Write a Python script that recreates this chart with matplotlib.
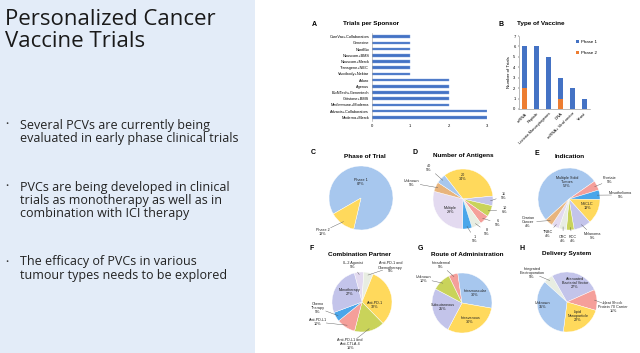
import numpy as np
import matplotlib
matplotlib.use("Agg")
import matplotlib.pyplot as plt
from matplotlib.patches import Rectangle

# ---------------- data ----------------
sponsors = ["CureVac+Collaborators", "Genexine", "NantBio", "Nouscom+BMS", "Nouscom+Merck",
            "Transgene+NEC", "Vaccibody+Nektar", "Aduro", "Agenus", "BioNTech+Genentech",
            "Gritstone+BMS", "Medimmune+Moderna", "Advaxis+Collaborators", "Moderna+Merck"]
sponsor_trials = [1, 1, 1, 1, 1, 1, 1, 2, 2, 2, 2, 2, 3, 3]

vaccine_types = ["mRNA", "Peptide", "Listeria Monocytogenes", "DNA", "mRNA+ Viral vector", "Yeast"]
phase1_counts = [4, 6, 5, 2, 2, 1]
phase2_counts = [2, 0, 0, 1, 0, 0]

phase_labels = ["Phase 1", "Phase 2"]
phase_pct = [87, 13]

antigen_labels = ["20", "11", "10", "6", "8", "1", "Multiple", "Unknown", "40"]
antigen_pct = [33, 5, 6, 5, 5, 5, 28, 5, 5]

indication_labels = ["Multiple Solid\nTumors", "Prostate", "Mesothelioma", "NSCLC", "Melanoma",
                     "RCC", "CRC", "TNBC", "Ovarian\nCancer"]
indication_pct = [52, 5, 5, 13, 9, 4, 4, 4, 4]

combo_labels = ["IL-2 Agonist", "Anti-PD-1 and\nChemotherapy", "Anti-PD-1",
                "Anti-PD-L1 and\nAnti-CTLA-4", "Anti-PD-L1", "Chemo\nTherapy", "Monotherapy"]
combo_pct = [5, 5, 31, 16, 10, 5, 26]

route_labels = ["Intradermal", "Intramuscular", "Intravenous", "Subcutaneous", "Unknown"]
route_pct = [5, 30, 30, 25, 10]

delivery_labels = ["Integrated\nElectroporation", "Attenuated\nBacterial Vector",
                   "Heat Shock\nProtein 70 Carrier", "Lipid\nNanoparticle", "Unknown"]
delivery_pct = [5, 26, 11, 22, 34]

title_text = "Personalized Cancer\nVaccine Trials"
bullets = ["Several PCVs are currently being\nevaluated in early phase clinical trials",
           "PVCs are being developed in clinical\ntrials as monotherapy as well as in\ncombination with ICI therapy",
           "The efficacy of PVCs in various\ntumour types needs to be explored"]

# ---------------- styles ----------------
W, H = 640, 353
LB, YE, LAV, OL, SAL = '#A7C7EE', '#FFD95C', '#C3C4EA', '#C9D35A', '#F59F9A'
BL, TAN, PALE, PLAV = '#4AA6EA', '#E8B47D', '#E8EDE2', '#E3DAF0'
BLUE, ORANGE = '#4472C4', '#ED7D31'
FONT = ['Liberation Sans', 'DejaVu Sans']
plt.rcParams['font.family'] = FONT

fig = plt.figure(figsize=(W / 100, H / 100), dpi=100)
fig.patch.set_facecolor('white')
fig.patches.append(Rectangle((0, 0), 255 / W, 1, transform=fig.transFigure,
                             facecolor='#E3ECF8', edgecolor='none', zorder=0))


def ax_px(x0, y0, x1, y1):
    return fig.add_axes([x0 / W, 1 - y1 / H, (x1 - x0) / W, (y1 - y0) / H])


def ftext(x, y, s, **kw):
    return fig.text(x / W, 1 - y / H, s, **kw)


# ---------------- left text panel ----------------
ftext(5, 9, title_text, fontsize=16, family=['Open Sans', 'DejaVu Sans'],
      color='#1a1a1a', va='top', linespacing=1.05)
bullet_y = [125, 187, 262]
for by, b in zip(bullet_y, bullets):
    ftext(5, by, "\u2022", fontsize=6, family=['Open Sans'], color='#333333', va='center')
    ftext(20, by - 6.5, b, fontsize=9.0, family=['Open Sans', 'DejaVu Sans'],
          color='#222222', va='top', linespacing=1.05)

# ---------------- A: trials per sponsor ----------------
axA = ax_px(372, 33, 487, 121)
yy = np.arange(len(sponsors))[::-1]
axA.barh(yy, sponsor_trials, height=0.42, color=BLUE, edgecolor='#7FA3E0', linewidth=0.3)
axA.set_yticks(yy)
axA.set_yticklabels(sponsors, fontsize=2.8)
axA.set_xlim(0, 3)
axA.set_ylim(-0.6, len(sponsors) - 0.4)
axA.set_xticks([0, 1, 2, 3])
axA.tick_params(axis='x', labelsize=3, length=0, pad=2)
axA.tick_params(axis='y', length=0, pad=2)
for s in ['top', 'right', 'bottom']:
    axA.spines[s].set_visible(False)
axA.spines['left'].set_linewidth(0.4)
axA.spines['left'].set_color('#999999')
ftext(314, 24, "A", fontsize=5, weight='bold', ha='center', va='center')
ftext(371, 24, "Trials per Sponsor", fontsize=4.6, weight='bold', ha='center', va='center')

# ---------------- B: type of vaccine ----------------
axB = ax_px(519, 36, 590, 109)
xx = np.arange(len(vaccine_types))
axB.bar(xx, phase2_counts, width=0.42, color=ORANGE, label='Phase 2', zorder=2)
axB.bar(xx, phase1_counts, width=0.42, bottom=phase2_counts, color=BLUE, label='Phase 1', zorder=2)
axB.set_xlim(-0.5, len(vaccine_types) - 0.5)
axB.set_ylim(0, 7)
axB.set_yticks(range(8))
axB.tick_params(axis='y', labelsize=3, length=1, width=0.3, pad=1.5)
axB.set_xticks(xx)
axB.set_xticklabels(vaccine_types, fontsize=3, rotation=45, ha='right', rotation_mode='anchor')
axB.tick_params(axis='x', length=0, pad=2)
for s in ['top', 'right']:
    axB.spines[s].set_visible(False)
for s in ['left', 'bottom']:
    axB.spines[s].set_linewidth(0.4)
    axB.spines[s].set_color('#888888')
axB.set_ylabel("Number of Trials", fontsize=3.2, labelpad=2)
h, l = axB.get_legend_handles_labels()
axB.legend(h[::-1], l[::-1], loc='upper right', bbox_to_anchor=(1.15, 1.0), frameon=False,
           fontsize=3.2, handlelength=0.6, handleheight=0.6, labelspacing=1.6, handletextpad=0.4)
ftext(501, 24, "B", fontsize=5, weight='bold', ha='center', va='center')
ftext(541, 24, "Type of Vaccine", fontsize=4.6, weight='bold', ha='center', va='center')


# ---------------- pies ----------------
def pie_panel(cx, cy, R, values, labels, colors, start, label_pos, letter, lpos, title, tpos):
    k = 2.2
    ax = ax_px(cx - R * k, cy - R * k, cx + R * k, cy + R * k)
    wedges, _ = ax.pie(values, colors=colors, startangle=start, counterclock=False, radius=1,
                       wedgeprops=dict(edgecolor='white', linewidth=0.3))
    total = float(sum(values))
    for w, lab, v, (lx, ly) in zip(wedges, labels, values, label_pos):
        txt = f"{lab}\n{round(100 * v / total)}%"
        ax.text(lx, ly, txt, fontsize=2.7, ha='center', va='center', linespacing=1.0,
                clip_on=False, color='#222222')
        if np.hypot(lx, ly) > 1.05:
            th = np.deg2rad((w.theta1 + w.theta2) / 2)
            p0 = np.array([np.cos(th), np.sin(th)]) * 0.92
            p1 = np.array([lx, ly])
            d = p1 - p0
            p1 = p0 + d * max(0.0, 1 - 0.28 / np.hypot(*d))
            ax.plot([p0[0], p1[0]], [p0[1], p1[1]], color='#555555', lw=0.3, clip_on=False)
    ax.set_xlim(-k, k)
    ax.set_ylim(-k, k)
    ax.set_aspect('equal')
    ax.axis('off')
    ftext(lpos[0], lpos[1], letter, fontsize=5, weight='bold', ha='center', va='center')
    ftext(tpos[0], tpos[1], title, fontsize=4.6, weight='bold', ha='center', va='center')


pie_panel(361, 198, 32, phase_pct, phase_labels, [LB, YE], 210,
          [(0, 0.5), (-1.2, -1.05)], "C", (313, 153), "Phase of Trial", (365, 156))

pie_panel(463, 199, 30, antigen_pct, antigen_labels,
          [YE, LAV, OL, SAL, PALE, BL, PLAV, TAN, LB], 128,
          [(0, 0.73), (1.37, 0.1), (1.4, -0.37), (1.17, -0.8), (0.8, -1.1), (0.4, -1.35),
           (-0.43, -0.37), (-1.7, 0.53), (-1.13, 1.03)],
          "D", (415, 153), "Number of Antigens", (463, 156))

pie_panel(569, 199, 31, indication_pct, indication_labels,
          [LB, SAL, BL, YE, LAV, OL, PALE, PLAV, TAN], 222,
          [(-0.06, 0.55), (1.32, 0.6), (1.65, 0.13), (0.58, -0.23), (0.77, -1.18),
           (0.13, -1.3), (-0.19, -1.3), (-0.68, -1.12), (-1.32, -0.74)],
          "E", (537, 154), "Indication", (570, 156))

pie_panel(362, 302, 30, combo_pct, combo_labels,
          [PLAV, PALE, YE, OL, SAL, BL, LAV], 105,
          [(-0.3, 1.23), (0.95, 1.15), (0.43, -0.1), (-0.4, -1.4), (-1.47, -0.67),
           (-1.47, -0.2), (-0.4, 0.33)],
          "F", (312, 248), "Combination Partner", (360, 254))

pie_panel(462, 303, 30, route_pct, route_labels,
          [SAL, LB, YE, LAV, OL], 116,
          [(-0.7, 1.27), (0.43, 0.33), (0.27, -0.57), (-0.63, -0.13), (-1.27, 0.8)],
          "G", (420, 249), "Route of Administration", (467, 254))

pie_panel(567, 302, 30, delivery_pct, delivery_labels,
          [PALE, LAV, SAL, YE, LB], 138,
          [(-1.17, 0.97), (0.27, 0.63), (1.53, -0.17), (0.37, -0.47), (-0.8, -0.1)],
          "H", (522, 249), "Delivery System", (567, 254))

fig.savefig("out.png", dpi=100, facecolor=fig.get_facecolor())
